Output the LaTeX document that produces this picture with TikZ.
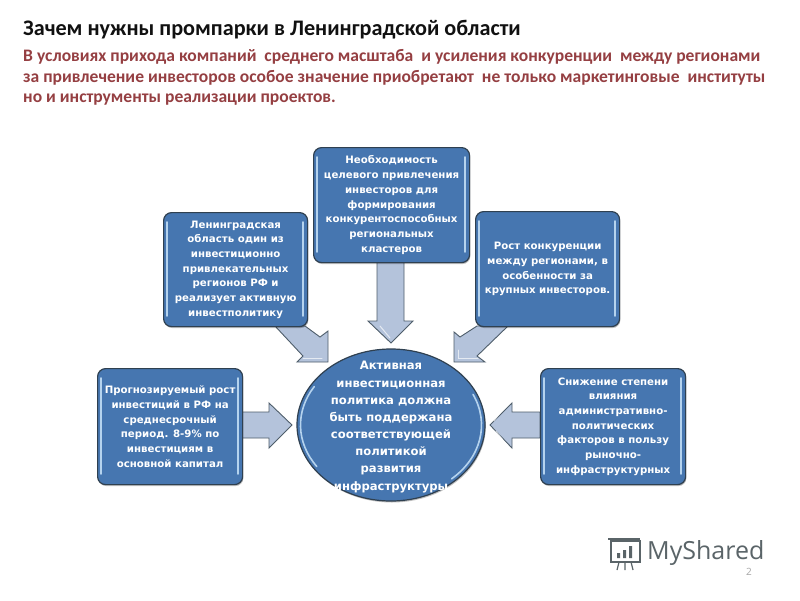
\documentclass[tikz,border=0pt]{standalone}
\usepackage{fontspec}
\setmainfont{DejaVu Sans}
\newfontfamily\calib{Carlito}
\newfontfamily\logofont{Open Sans}
\usetikzlibrary{shapes.geometric,shadows}
\definecolor{boxblue}{HTML}{4676B0}
\definecolor{boxedge}{HTML}{2F4050}
\definecolor{glow}{HTML}{B5D3EE}
\definecolor{arrowfill}{HTML}{B4C3DB}
\definecolor{titlecol}{HTML}{111111}
\definecolor{redtxt}{HTML}{953F42}
\definecolor{logo}{HTML}{5A6468}
\tikzset{
 bluebox/.style={draw=boxedge,line width=1.2pt,fill=boxblue,rounded corners=8pt,inner sep=0pt,
   text=white,align=center,font=\bfseries\fontsize{10.2}{14.7}\selectfont,anchor=north west,
   drop shadow={shadow xshift=.8pt,shadow yshift=-1.5pt,fill=black,opacity=.25}},
 arrowshape/.style={draw=boxedge!85,line width=.9pt,fill=arrowfill,line join=miter},
 gloss/.style={draw=glow,line width=1.6pt,line cap=round},
 shine/.style={draw=white,line width=1pt,line cap=round,opacity=.65},
 redline/.style={anchor=west,inner sep=0pt,text=redtxt,font=\calib\bfseries\fontsize{17.55}{20}\selectfont},
}
\begin{document}
\begin{tikzpicture}[x=1pt,y=-1pt]
\useasboundingbox (0,0) rectangle (800,600);
\fill[white] (0,0) rectangle (800,600);
% arrows
\draw[arrowshape] (242,412) -- (269,412) -- (269,403) -- (292,425) -- (269,448) -- (269,438) -- (242,438) -- cycle;
\draw[arrowshape] (540,412) -- (512,412) -- (512,403) -- (490,425) -- (512,448) -- (512,438) -- (540,438) -- cycle;
\draw[arrowshape] (377,262) -- (377,321) -- (368,321) -- (391,343) -- (413,321) -- (404,321) -- (404,262) -- cycle;
\draw[arrowshape] (275,326) -- (303,356) -- (297,362) -- (328,362) -- (328,331) -- (320,337) -- (305,326) -- cycle;
\draw[arrowshape] (508,326) -- (477,356) -- (485,362) -- (454,362) -- (454,332) -- (460,337) -- (477,326) -- cycle;
\draw[shine] (276,406) -- (289,420) (276,444) -- (286,433);
\draw[shine] (505,406) -- (494,421) (506,444) -- (496,431);
\draw[shine] (380,326) -- (390,338);
\draw[shine] (303,358) -- (322,358);
\draw[shine] (458,350) -- (458,358) -- (478,358);
% boxes
\node[bluebox,minimum width=145pt,minimum height=116pt] (b1) at (97,368) {Прогнозируемый рост\\инвестиций в РФ на\\среднесрочный\\период. 8-9\% по\\инвестициям в\\основной капитал};
\node[bluebox,minimum width=144pt,minimum height=114pt] (b2) at (163,212) {Ленинградская\\область один из\\инвестиционно\\привлекательных\\регионов РФ и\\реализует активную\\инвестполитику};
\node[bluebox,minimum width=156pt,minimum height=115pt] (b3) at (313,147) {Необходимость\\целевого привлечения\\инвесторов для\\формирования\\конкурентоспособных\\региональных\\кластеров};
\node[bluebox,minimum width=144pt,minimum height=115pt] (b4) at (475,211) {Рост конкуренции\\между регионами, в\\особенности за\\крупных инвесторов.};
\node[bluebox,minimum width=145pt,minimum height=116pt] (b5) at (540,368) {Снижение степени\\влияния\\административно-\\политических\\факторов в пользу\\рыночно-\\инфраструктурных};
% box glosses
\draw[gloss] (101,378) -- (101,474) (238,378) -- (238,474);
\draw[gloss] (167,222) -- (167,316) (303,222) -- (303,316);
\draw[gloss] (317,157) -- (317,252) (465,157) -- (465,252);
\draw[gloss] (479,221) -- (479,316) (615,221) -- (615,316);
\draw[gloss] (544,378) -- (544,474) (681,378) -- (681,474);
% ellipse
\node[ellipse,draw=boxedge,line width=1.2pt,fill=boxblue,minimum width=188pt,minimum height=152pt,inner sep=0pt,
  drop shadow={shadow xshift=.8pt,shadow yshift=-1.5pt,fill=black,opacity=.25}] (c) at (391,425) {};
\draw[gloss] (391,425) ++(148:90.5pt and 72.5pt) arc (148:215:90.5pt and 72.5pt);
\draw[gloss] (391,425) ++(-48:90.5pt and 72.5pt) arc (-48:25:90.5pt and 72.5pt);
\node[text=white,align=center,inner sep=0pt,font=\bfseries\fontsize{11.6}{17.15}\selectfont] (cl) at (391,427) {Активная\\инвестиционная\\политика должна\\быть поддержана\\соответствующей\\политикой\\развития\\инфраструктуры};
% title
\node[anchor=west,inner sep=0pt,text=titlecol,font=\calib\bfseries\fontsize{22.2}{25}\selectfont] (t) at (23,30) {Зачем нужны промпарки в Ленинградской области};
\node[redline] (s1) at (23,57) {В условиях прихода компаний \ среднего масштаба \ и усиления конкуренции \ между регионами};
\node[redline] (s2) at (23,78) {за привлечение инвесторов особое значение приобретают \ не только маркетинговые \ институты};
\node[redline] (s3) at (23,99.5) {но и инструменты реализации проектов.};
% logo
\node[anchor=west,inner sep=0pt,text=logo,font=\logofont\fontsize{25}{28}\selectfont] (m) at (647,553) {MyShared};
\node[anchor=center,inner sep=0pt,text=gray!70,font=\logofont\fontsize{10}{12}\selectfont] (n) at (749,572) {2};
\draw[logo,line width=1.4pt] (611,541) rectangle (640,562);
\draw[logo,line width=1.4pt] (608,539) -- (640,539);
\draw[logo,line width=1.2pt] (619,562) -- (617,570) (625,562) -- (625,570) (631,562) -- (633,570);
\fill[logo] (617,553) rectangle (620,558) (623,550) rectangle (626,558) (629,546) rectangle (632,558);
\end{tikzpicture}
\end{document}
